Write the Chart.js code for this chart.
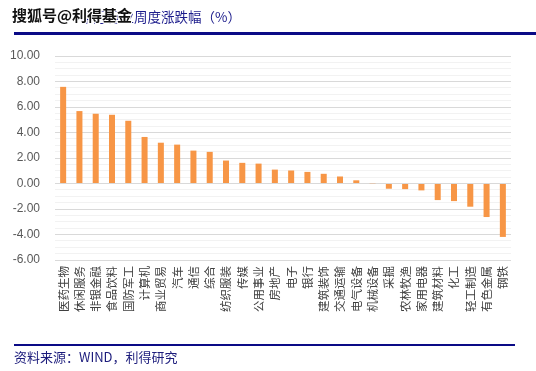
<!DOCTYPE html>
<html>
<head>
<meta charset="utf-8">
<script src="https://cdn.jsdelivr.net/npm/chart.js@4"></script>
<style>
    body { margin: 0; background: #fff; }
    #wrap { position: relative; width: 536px; height: 371px; overflow: hidden; }
    #chart { position: absolute; left: 0; top: 0; }
    .title { position: absolute; left: 80px; top: 6px; font: 13.5px "Noto Sans CJK SC"; color: #1c1c8c; white-space: nowrap; }
    .mark { position: absolute; left: 12px; top: 4px; font: bold 15px "Noto Sans CJK SC"; color: #111; white-space: nowrap;
            text-shadow: 1px 1px 0 #fff, -1px -1px 0 #fff, 1px -1px 0 #fff, -1px 1px 0 #fff; }
    .topline { position: absolute; left: 14px; top: 32px; width: 522px; height: 3px; background: #0a0a86; }
    .botline { position: absolute; left: 14px; top: 344px; width: 501px; height: 2px; background: #0a0a86; }
    .source { position: absolute; left: 14px; top: 347px; font: 13px "Noto Sans CJK SC"; color: #1c1c7c; white-space: nowrap; }
</style>
</head>
<body>
<div id="wrap">
    <canvas id="chart" width="536" height="371"></canvas>
    <div class="title">申万行业周度涨跌幅（%）</div>
    <div class="mark">搜狐号@利得基金</div>
    <div class="topline"></div>
    <div class="botline"></div>
    <div class="source">资料来源：WIND，利得研究</div>
</div>
<script>
// 行业名称
const industries = ['医药生物', '休闲服务', '非银金融', '食品饮料', '国防军工', '计算机', '商业贸易', '汽车',
    '通信', '综合', '纺织服装', '传媒', '公用事业', '房地产', '电子', '银行', '建筑装饰', '交通运输',
    '电气设备', '机械设备', '采掘', '农林牧渔', '家用电器', '建筑材料', '化工', '轻工制造', '有色金属', '钢铁'];
// 周度涨跌幅（%）
const weeklyChange = [7.58, 5.68, 5.47, 5.39, 4.92, 3.65, 3.20, 3.05, 2.58, 2.48, 1.80, 1.62, 1.56, 1.09,
    1.02, 0.91, 0.76, 0.55, 0.25, 0.02, -0.41, -0.44, -0.54, -1.30, -1.38, -1.82, -2.63, -4.19];
const yMin = -6;
const yMax = 10;

// x軸ラベルを下から上へ（-90度）描く
const verticalLabels = {
    id: 'verticalLabels',
    afterDraw(chart) {
        const c = chart.ctx;
        const xs = chart.scales.x;
        const top = chart.chartArea.bottom + 6;
        c.save();
        c.fillStyle = '#404040';
        c.font = '11.5px "Noto Sans CJK SC"';
        c.textAlign = 'right';
        c.textBaseline = 'middle';
        chart.data.labels.forEach((label, i) => {
            c.save();
            c.translate(xs.getPixelForValue(i), top);
            c.rotate(-Math.PI / 2);
            c.fillText(label, 0, 0);
            c.restore();
        });
        c.restore();
    }
};

const ctx = document.getElementById('chart').getContext('2d');
new Chart(ctx, {
    type: 'bar',
    data: {
        labels: industries,
        datasets: [{
            data: weeklyChange,
            backgroundColor: '#F79646',
            categoryPercentage: 1,
            barPercentage: 0.37
        }]
    },
    options: {
        responsive: false,
        animation: false,
        layout: { padding: { top: 56, right: 25, bottom: 31, left: 0 } },
        plugins: { legend: { display: false }, tooltip: { enabled: false } },
        scales: {
            x: {
                grid: { display: false },
                border: { display: false },
                ticks: { display: false },
                afterFit: scale => { scale.height = 80; }
            },
            y: {
                min: yMin,
                max: yMax,
                border: { display: false },
                grid: {
                    drawTicks: false,
                    color: c => Math.abs(c.tick.value % 2) < 1e-6 ? '#d9d9d9' : '#f2f2f2'
                },
                ticks: {
                    stepSize: 0.5,
                    autoSkip: false,
                    padding: 15,
                    color: '#595959',
                    font: { family: 'Liberation Sans', size: 12 },
                    callback: v => Math.abs(v % 2) < 1e-6 ? v.toFixed(2) : ''
                },
                afterFit: scale => { scale.width = 55; }
            }
        }
    },
    plugins: [verticalLabels]
});
</script>
</body>
</html>
